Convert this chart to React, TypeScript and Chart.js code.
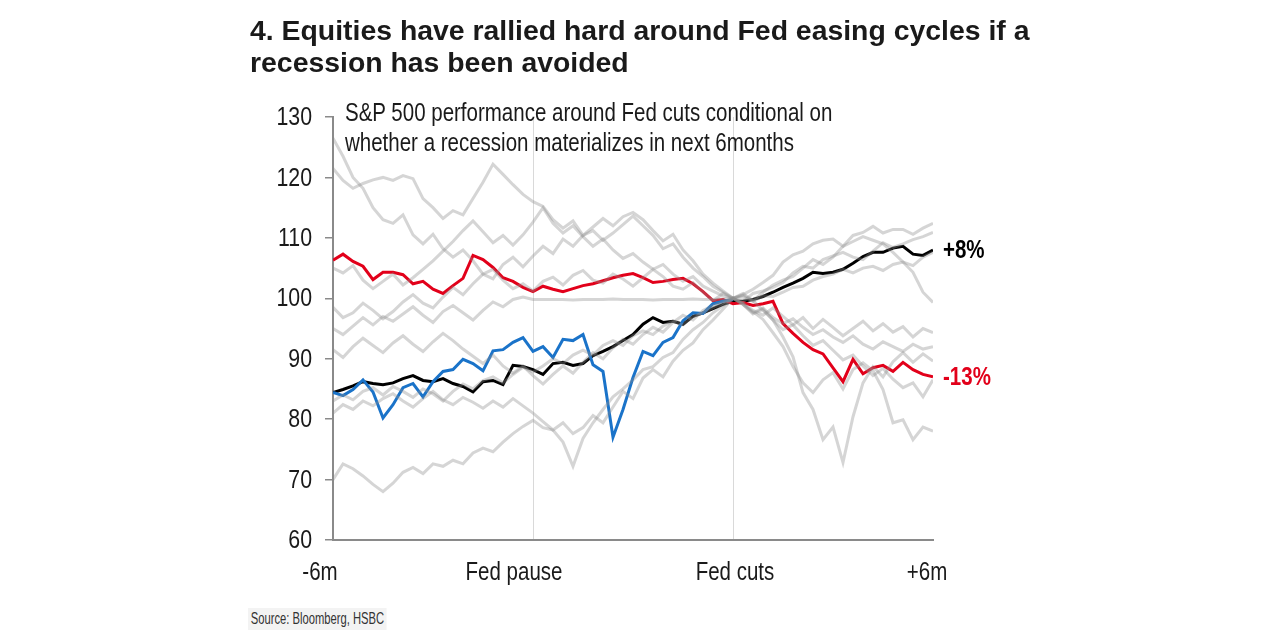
import React, { useEffect, useRef } from 'react';
import { Chart, registerables } from 'chart.js';

Chart.register(...registerables);

// x runs from 0 (6 months before) to 60 (6 months after the first cut)
const X_TICKS = [0, 20, 40, 60];
const X_LABELS = ['-6m', 'Fed pause', 'Fed cuts', '+6m'];
const Y_MIN = 60;
const Y_MAX = 130;
const Y_STEP = 10;

// Average path when a recession was avoided
const noRecession = [
  84.4, 84.9, 85.5, 86.2, 85.9, 85.7, 86.0, 86.7, 87.2, 86.4,
  86.2, 86.7, 85.9, 85.4, 84.5, 86.2, 86.4, 85.7, 88.9, 88.7,
  88.2, 87.4, 89.2, 89.4, 88.9, 89.2, 90.5, 91.2, 92.0, 93.0,
  94.0, 95.7, 96.8, 96.0, 96.2, 95.7, 97.0, 97.6, 98.3, 99.0,
  99.5, 99.5, 99.8, 100.3, 101.0, 101.8, 102.5, 103.3, 104.3, 104.1,
  104.3, 104.8, 105.8, 106.9, 107.6, 107.6, 108.3, 108.6, 107.3, 107.1,
  108.0,
];

// Average path when a recession followed
const recession = [
  106.3, 107.3, 106.1, 105.3, 103.1, 104.3, 104.3, 103.9, 102.4, 102.8,
  101.5, 100.8, 102.1, 103.3, 107.1, 106.4, 105.1, 103.4, 102.8, 101.8,
  101.1, 102.0, 101.5, 101.1, 101.6, 102.1, 102.4, 102.9, 103.4, 103.8,
  104.1, 103.4, 102.6, 102.8, 103.1, 103.3, 102.4, 101.1, 99.6, 99.8,
  99.1, 99.3, 98.8, 99.1, 99.5, 95.8, 94.2, 92.7, 91.5, 90.8,
  88.5, 86.2, 89.9, 87.5, 88.5, 88.9, 87.9, 89.4, 88.2, 87.4,
  87.0,
];

// Highlighted cycle, shown up to the first cut
const highlighted = [
  84.4, 83.9, 84.9, 86.5, 84.5, 80.2, 82.4, 85.2, 85.9, 83.7,
  86.2, 87.9, 88.2, 89.9, 89.2, 88.0, 91.3, 91.5, 92.7, 93.5,
  91.2, 92.0, 90.2, 93.2, 93.0, 94.0, 89.0, 87.9, 77.0, 81.6,
  86.9, 91.2, 90.5, 92.7, 93.5, 96.3, 97.6, 97.5, 99.1, 99.5,
  99.8,
];

// Individual easing cycles
const cycleA = [
  126.5, 123.5, 120.0, 118.2, 115.0, 113.0, 112.4, 113.8, 110.5, 109.0,
  110.6, 108.2, 106.8, 108.0, 106.2, 104.0, 104.8, 103.0, 101.6, 102.4,
  101.2, 102.8, 103.5, 102.2, 103.8, 104.6, 103.0, 102.5, 104.0, 103.2,
  102.0, 103.4, 104.8, 103.6, 102.0, 101.5, 102.6, 101.0, 99.6, 100.8,
  100.0, 100.6, 101.5, 102.6, 103.8, 106.0, 107.2, 107.8, 109.0, 109.6,
  109.8, 108.6, 110.4, 110.9, 111.9, 110.8, 111.4, 111.4, 110.6, 111.6,
  112.4,
];
const cycleB = [
  121.5, 119.5, 118.2, 119.0, 119.6, 120.0, 119.5, 120.3, 119.8, 116.5,
  115.0, 113.2, 114.5, 113.8, 116.5, 119.2, 122.2, 120.5, 118.8, 117.2,
  116.0, 115.2, 113.0, 111.6, 112.8, 110.4, 111.8, 113.2, 112.0, 113.5,
  114.2, 113.0, 111.2, 109.5, 110.6, 108.0, 106.2, 104.0, 102.5, 101.2,
  100.0, 99.0, 97.8, 96.5, 94.3, 92.0, 88.7, 86.0, 84.4, 86.5,
  87.7, 85.0, 88.2, 89.3, 88.0, 84.9, 79.4, 79.9, 76.6, 78.7,
  78.0,
];
const cycleC = [
  105.0, 104.2, 105.4, 103.0, 101.6, 102.8, 104.0, 102.2, 103.4, 104.8,
  106.2, 107.8, 109.4, 111.2, 112.8, 111.0, 109.2, 110.4, 108.8, 110.5,
  112.6, 115.0, 112.4, 110.8, 112.0, 110.2, 108.6, 109.8, 108.0, 106.6,
  107.4, 106.0, 104.8, 105.6, 104.0, 102.8, 103.6, 102.0, 101.2, 100.4,
  100.0, 100.5, 99.6, 101.0, 102.2, 103.0, 103.6, 105.0, 106.4, 105.6,
  106.8, 108.6, 109.4, 110.2, 109.6, 109.0, 107.6, 106.0, 104.3, 101.0,
  99.3,
];
const cycleD = [
  98.5, 96.8, 97.6, 99.2, 98.0, 96.6, 97.8, 99.4, 100.6, 99.2,
  98.4, 100.2, 101.8, 100.6, 102.4, 104.0, 103.2, 105.6, 106.8, 105.2,
  107.0, 108.6, 107.4, 109.8, 108.6, 110.4, 111.2, 109.6, 110.8, 112.2,
  113.6, 112.0, 110.4, 108.2, 109.0, 106.8, 105.0, 103.6, 102.0, 101.0,
  100.0, 99.2, 98.0, 97.2, 98.4, 97.0, 95.6, 96.8, 95.0, 96.5,
  95.2, 93.8, 95.0, 96.2, 94.6, 95.8, 94.4, 95.3, 93.6, 95.0,
  94.3,
];
const cycleE = [
  95.0, 94.0, 95.4, 96.8, 95.6, 97.0, 96.2, 97.4, 98.6, 97.2,
  96.0, 97.8, 98.8, 97.6, 96.4, 98.0, 99.4, 98.6, 99.8, 100.2,
  99.8, 99.8, 99.8, 99.8, 99.7, 99.8, 99.8, 99.8, 99.9, 99.8,
  99.8, 99.8, 99.7, 99.8, 99.8, 99.8, 99.9, 99.8, 99.8, 99.9,
  100.0, 100.2, 99.5, 100.4, 100.3, 101.0, 101.8, 102.0, 103.0, 103.6,
  104.0, 104.8, 104.2, 105.0, 105.3, 104.6, 105.6, 106.0, 105.4, 106.8,
  107.6,
];
const cycleF = [
  91.5, 90.2, 92.0, 93.4, 92.2, 91.0, 92.6, 93.8, 92.4, 91.2,
  92.8, 94.2, 93.0, 91.6, 90.4, 89.2, 90.6, 88.8, 87.6, 88.8,
  87.2, 85.8, 87.4, 88.8, 87.6, 89.4, 91.0, 90.0, 91.8, 93.2,
  92.4, 94.0, 95.2, 94.4, 96.0, 97.2, 96.4, 98.0, 98.8, 99.4,
  100.0, 99.0, 97.6, 98.4, 96.8, 95.8, 96.6, 95.2, 94.0, 94.8,
  93.6, 92.7, 93.8, 92.4, 91.6, 92.8, 92.0, 91.2, 92.4, 91.6,
  92.0,
];
const cycleG = [
  83.0, 84.0, 83.2, 84.6, 85.2, 84.0, 85.4, 84.6, 83.6, 85.0,
  84.2, 83.0, 84.6, 85.8, 85.0, 86.4, 87.0, 86.0, 87.4, 88.6,
  87.8, 88.8, 90.0, 89.2, 90.6, 91.4, 90.6, 92.2, 93.0, 92.2,
  93.8, 94.6, 94.0, 95.4, 96.2, 95.6, 97.0, 97.6, 98.4, 99.2,
  100.0, 99.4, 100.8, 101.2, 101.8, 102.6, 104.2, 105.3, 105.0, 106.4,
  107.0, 107.6, 106.8, 106.4, 107.8, 109.2, 108.4, 109.0, 109.7, 110.2,
  110.9,
];
const cycleH = [
  81.0, 82.4, 81.6, 83.0, 82.2, 83.4, 84.2, 83.0, 82.0, 83.4,
  84.6, 83.2, 82.4, 83.6, 82.8, 81.8, 83.0, 82.0, 83.4, 82.2,
  81.0, 79.6, 78.2, 79.4, 77.6, 78.6, 80.6, 79.4, 82.0, 84.6,
  83.4, 86.8, 88.2, 87.0, 89.6, 91.4, 92.6, 94.8, 96.4, 98.2,
  100.0, 99.0, 97.4, 98.2, 96.4, 94.8, 95.6, 93.8, 92.2, 93.0,
  91.4, 89.8, 90.6, 88.8, 87.2, 88.4, 86.6, 85.2, 86.0, 83.7,
  86.5,
];
const cycleI = [
  70.0, 72.6, 71.8, 70.6, 69.2, 68.0, 69.4, 71.2, 72.0, 71.0,
  72.6, 72.2, 73.2, 72.6, 74.4, 75.2, 74.6, 76.2, 77.6, 78.8,
  79.8, 78.6, 78.2, 76.2, 72.2, 76.8, 79.4, 81.6, 83.7, 85.0,
  86.5, 88.2, 88.7, 90.2, 91.0, 93.2, 94.8, 96.0, 97.6, 98.8,
  100.0, 100.8, 99.6, 98.0, 96.4, 93.6, 90.3, 84.4, 81.6, 76.6,
  78.7, 72.8, 80.4, 86.0, 88.7, 87.0, 89.5, 91.0, 89.4, 90.8,
  89.6,
];

const grayCycles = [cycleA, cycleB, cycleC, cycleD, cycleE, cycleF, cycleG, cycleH, cycleI];

const RED = '#e2001a';
const BLUE = '#1a73c9';
const BLACK = '#000000';
const GRAY = 'rgba(140,140,140,0.37)';
const AXIS = '#8a8a8a';
const TEXT = '#1a1a1a';
const SANS = '"Liberation Sans", Arial, sans-serif';
const NARROW_X = 0.82; // horizontal squeeze that gives a narrow face
const X_LABEL_NUDGE = [-13, -19, 2, -6]; // small horizontal nudges for the x labels

const toPoints = (vals: number[]) => vals.map((y, x) => ({ x, y }));

function narrowText(ctx: CanvasRenderingContext2D, text: string, x: number, y: number, align: CanvasTextAlign) {
  ctx.save();
  ctx.translate(x, y);
  ctx.scale(NARROW_X, 1);
  ctx.textAlign = align;
  ctx.textBaseline = 'middle';
  ctx.fillText(text, 0, 0);
  ctx.restore();
}

// Axis labels in a condensed face, placed at the scales' own tick positions
const narrowTicks = {
  id: 'narrowTicks',
  afterDraw(chart: any) {
    const { ctx, scales } = chart;
    const { x, y } = scales;
    ctx.save();
    ctx.fillStyle = TEXT;
    ctx.font = `26px ${SANS}`;
    y.ticks.forEach((t: any) => {
      narrowText(ctx, String(t.value), y.right - 8 - 13, y.getPixelForValue(t.value) + 1, 'right');
    });
    ctx.font = `25px ${SANS}`;
    x.ticks.forEach((t: any) => {
      const k = X_TICKS.indexOf(t.value);
      narrowText(ctx, X_LABELS[k], x.getPixelForValue(t.value) + X_LABEL_NUDGE[k], x.top + 33, 'center');
    });
    ctx.restore();
  },
};

// Writes the change since the first cut next to a series' last point
const endLabels = {
  id: 'endLabels',
  afterDatasetsDraw(chart: any) {
    const { ctx, scales } = chart;
    chart.data.datasets.forEach((ds: any) => {
      if (!ds.endLabel) return;
      const last = ds.data[ds.data.length - 1];
      const pct = Math.round(last.y - 100);
      const text = `${pct > 0 ? '+' : ''}${pct}%`;
      ctx.save();
      ctx.font = `bold 25px ${SANS}`;
      ctx.fillStyle = ds.borderColor;
      narrowText(ctx, text, scales.x.getPixelForValue(last.x) + 10, scales.y.getPixelForValue(last.y) + 1, 'left');
      ctx.restore();
    });
  },
};

export default function App() {
  const canvasRef = useRef<HTMLCanvasElement | null>(null);

  useEffect(() => {
    if (!canvasRef.current) return;
    const grayDatasets = grayCycles.map((vals) => ({
      data: toPoints(vals),
      borderColor: GRAY,
      borderWidth: 3,
      order: 0,
    }));
    const chart = new Chart(canvasRef.current, {
      type: 'line',
      data: {
        datasets: [
          ...grayDatasets,
          { data: toPoints(highlighted), borderColor: BLUE, borderWidth: 3, order: 1 },
          { data: toPoints(recession), borderColor: RED, borderWidth: 3, order: 1, endLabel: true } as any,
          { data: toPoints(noRecession), borderColor: BLACK, borderWidth: 3, order: 1, endLabel: true } as any,
        ],
      },
      options: {
        responsive: false,
        animation: false,
        layout: { padding: { left: 250, right: 347, top: 117, bottom: 50 } },
        elements: { point: { radius: 0 }, line: { tension: 0 } },
        plugins: { legend: { display: false }, tooltip: { enabled: false }, title: { display: false } },
        scales: {
          x: {
            type: 'linear',
            min: X_TICKS[0],
            max: X_TICKS[X_TICKS.length - 1],
            afterBuildTicks: (scale: any) => {
              scale.ticks = X_TICKS.map((value) => ({ value }));
            },
            afterFit: (scale: any) => {
              scale.height = 50;
            },
            grid: {
              drawTicks: false,
              lineWidth: 1,
              color: (ctx: any) =>
                ctx.tick && (ctx.tick.value === X_TICKS[1] || ctx.tick.value === X_TICKS[2])
                  ? '#d9d9d9'
                  : 'rgba(0,0,0,0)',
            },
            border: { color: AXIS, width: 2 },
            ticks: {
              padding: 18,
              maxRotation: 0,
              autoSkip: false,
              color: 'rgba(0,0,0,0)',
              font: { family: SANS, size: 20 },
              callback: (value: any) => X_LABELS[X_TICKS.indexOf(Number(value))],
            },
          },
          y: {
            min: Y_MIN,
            max: Y_MAX,
            afterFit: (scale: any) => {
              scale.width = 83;
            },
            grid: { drawOnChartArea: false, drawTicks: true, tickLength: 8, color: AXIS, lineWidth: 1.5 },
            border: { color: AXIS, width: 2 },
            ticks: {
              stepSize: Y_STEP,
              padding: 13,
              color: 'rgba(0,0,0,0)',
              font: { family: SANS, size: 20 },
            },
          },
        },
      },
      plugins: [endLabels, narrowTicks],
    } as any);
    return () => chart.destroy();
  }, []);

  return (
    <div style={{ position: 'absolute', left: 0, top: 0, width: 1280, height: 640, background: '#fff' }}>
      <canvas ref={canvasRef} width={1280} height={640} style={{ position: 'absolute', left: 0, top: 0 }} />
      <div
        style={{
          position: 'absolute',
          left: 250,
          top: 14,
          font: `bold 28.4px ${SANS}`,
          lineHeight: '32px',
          color: TEXT,
          whiteSpace: 'nowrap',
        }}
      >
        4. Equities have rallied hard around Fed easing cycles if a
        <br />
        recession has been avoided
      </div>
      <div
        style={{
          position: 'absolute',
          left: 345,
          top: 97,
          font: `25px ${SANS}`,
          lineHeight: '30px',
          color: TEXT,
          whiteSpace: 'nowrap',
          transform: `scaleX(${NARROW_X})`,
          transformOrigin: 'left top',
        }}
      >
        S&amp;P 500 performance around Fed cuts conditional on
        <br />
        whether a recession materializes in next 6months
      </div>
      <div
        style={{
          position: 'absolute',
          left: 248,
          top: 608,
          padding: '2px 4px',
          background: '#f3f3f3',
          font: `16px ${SANS}`,
          color: '#333',
          whiteSpace: 'nowrap',
          transform: 'scaleX(0.7)',
          transformOrigin: 'left top',
        }}
      >
        Source: Bloomberg, HSBC
      </div>
    </div>
  );
}
